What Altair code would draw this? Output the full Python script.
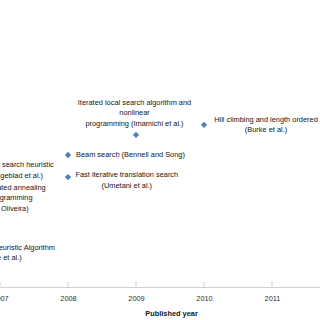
import altair as alt
import pandas as pd

# Publication timeline of nesting / strip-packing methods
years = [2006, 2006, 2006, 2008, 2008, 2009, 2010]
levels = [4.06, 3.12, 1.20, 4.60, 3.83, 5.30, 5.65]
methods = [
    "Local search heuristic\n(Egeblad et al.)",
    "Hybridising simulated annealing\nand linear programming\n(Gomes and Oliveira)",
    "Bottom-left-fill Heuristic Algorithm\n(Burke et al.)",
    "Beam search (Bennell and Song)",
    "Fast iterative translation search\n(Umetani et al.)",
    "Iterated local search algorithm and\nnonlinear\nprogramming (Imamichi et al.)",
    "Hill climbing and length ordered\n(Burke et al.)",
]
tick_years = [2007, 2008, 2009, 2010, 2011]

df = pd.DataFrame({"year": years, "level": levels, "label": methods})
df["key"] = range(len(df))

FONT = "Liberation Sans, Arial, sans-serif"
TEXT = "#141414"
AXIS_GREY = "#d0d0d0"
BLUE = "#4F81BD"
FS = 7.4

# label placement around each marker: (align, dx, dy of first line)
placement = {
    0: ("center", 86, -5),
    1: ("center", 61.5, -9.5),
    2: ("center", 68.5, -4.6),
    3: ("left", 8, 0),
    4: ("center", 58.8, -2),
    5: ("center", -1.5, -32),
    6: ("center", 62, -5),
}

x_scale = alt.Scale(domain=[2007, 2007 + 320 / 68], nice=False, zero=False)
y_scale = alt.Scale(domain=[0, 10], nice=False, zero=True)

x_axis = alt.Axis(
    values=tick_years,
    format="d",
    grid=False,
    ticks=False,
    domainColor=AXIS_GREY,
    domainWidth=1,
    labelFont=FONT,
    labelFontSize=FS,
    labelColor="#303030",
    labelPadding=7,
    labelFlush=False,
    labelOverlap=False,
    title="Published year",
    titleFont=FONT,
    titleFontSize=FS,
    titleFontWeight="bold",
    titleColor=TEXT,
    titleX=171,
    titleY=26,
    titleBaseline="middle",
    titleAnchor="start",
    titleAlign="center",
)

base = alt.Chart(df)

points = base.mark_point(
    shape="diamond", filled=True, size=40, color=BLUE, opacity=1, clip=True
).encode(
    x=alt.X("year:Q", scale=x_scale, axis=x_axis),
    y=alt.Y("level:Q", scale=y_scale, axis=None),
)

tick_marks = alt.Chart(pd.DataFrame({"year": tick_years})).mark_rule(
    color=AXIS_GREY, strokeWidth=1
).encode(
    x=alt.X("year:Q", scale=x_scale),
    y=alt.value(287),
    y2=alt.value(282),
)

label_layers = []
for key, (align, dx, dy) in placement.items():
    label_layers.append(
        base.transform_filter(alt.datum.key == key)
        .mark_text(
            align=align,
            baseline="middle",
            dx=dx,
            dy=dy,
            font=FONT,
            fontSize=FS,
            lineHeight=10.5,
            lineBreak="\n",
            color=TEXT,
            clip=True,
        )
        .encode(
            x=alt.X("year:Q", scale=x_scale),
            y=alt.Y("level:Q", scale=y_scale),
            text="label:N",
        )
    )

chart = (
    alt.layer(tick_marks, points, *label_layers)
    .properties(
        width=320,
        height=287,
        autosize=alt.AutoSizeParams(type="none"),
        padding={"left": 0, "top": 0, "right": 0, "bottom": 33},
        background="white",
    )
    .configure_view(stroke=None)
)

chart.save("out.html", embed_options={"renderer": "svg", "actions": False})
